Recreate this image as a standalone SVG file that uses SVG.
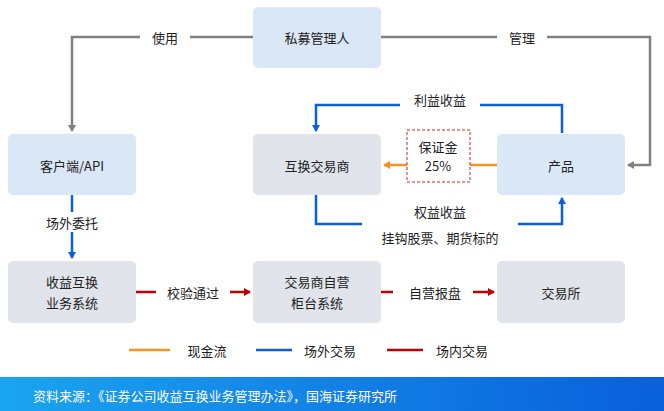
<svg xmlns="http://www.w3.org/2000/svg" width="664" height="411" viewBox="0 0 664 411">
<style>
text{font-family:"Noto Sans CJK SC","Liberation Sans",sans-serif;font-size:13px;fill:#222;text-anchor:middle;dominant-baseline:central}
.b{fill:#dae7f6}.g{fill:#e1e4ea}
.gr{stroke:#808080;stroke-width:2.5;fill:none}
.bl{stroke:#0a5fdb;stroke-width:2.5;fill:none}
.rd{stroke:#c00000;stroke-width:2.5;fill:none}
.or{stroke:#f7931e;stroke-width:2.5;fill:none}
</style>
<defs>
<marker id="ag" markerWidth="8" markerHeight="8" refX="6" refY="4" orient="auto" markerUnits="userSpaceOnUse"><path d="M0,0L7,4L0,8z" fill="#808080"/></marker>
<marker id="ab" markerWidth="8" markerHeight="8" refX="6" refY="4" orient="auto" markerUnits="userSpaceOnUse"><path d="M0,0L7,4L0,8z" fill="#0a5fdb"/></marker>
<marker id="ar" markerWidth="8" markerHeight="8" refX="6" refY="4" orient="auto" markerUnits="userSpaceOnUse"><path d="M0,0L7,4L0,8z" fill="#c00000"/></marker>
<marker id="ao" markerWidth="8" markerHeight="8" refX="6" refY="4" orient="auto" markerUnits="userSpaceOnUse"><path d="M0,0L7,4L0,8z" fill="#f7931e"/></marker>
<linearGradient id="ft" x1="0" x2="1"><stop offset="0" stop-color="#1aa4f0"/><stop offset="1" stop-color="#0a5fdb"/></linearGradient>
</defs>
<rect width="664" height="411" fill="#fff"/>
<g id="connectors">
<path class="gr" d="M253,37H72V131" marker-end="url(#ag)"/>
<rect x="140" y="28" width="50" height="18" fill="#fff"/><text x="165" y="37">使用</text>
<path class="gr" d="M381,37H650V165H628" marker-end="url(#ag)"/>
<rect x="497" y="28" width="50" height="18" fill="#fff"/><text x="522" y="37">管理</text>
<path class="bl" d="M562,133V105H316V131" marker-end="url(#ab)"/>
<rect x="400" y="90" width="80" height="20" fill="#fff"/><text x="440" y="99">利益收益</text>
<path class="bl" d="M316,195V224H562V198" marker-end="url(#ab)"/>
<rect x="362" y="200" width="156" height="46" fill="#fff"/>
<text x="440" y="211">权益收益</text><text x="440" y="237">挂钩股票、期货标的</text>
<path class="or" d="M497,165H384" marker-end="url(#ao)"/>
<rect x="407" y="130" width="63" height="52" fill="#fff" stroke="#d42020" stroke-width="1" stroke-dasharray="3,2"/>
<text x="438" y="146">保证金</text><text x="438" y="165" font-size="12">25%</text>
<path class="bl" d="M72,195V258" marker-end="url(#ab)"/>
<rect x="40" y="212" width="64" height="20" fill="#fff"/><text x="72" y="222">场外委托</text>
<path class="rd" d="M136,292H250" marker-end="url(#ar)"/>
<rect x="156" y="283" width="74" height="18" fill="#fff"/><text x="193" y="292">校验通过</text>
<path class="rd" d="M381,292H494" marker-end="url(#ar)"/>
<rect x="393" y="283" width="80" height="18" fill="#fff"/><text x="435" y="292">自营报盘</text>
</g>
<g id="n1"><rect class="b" x="253" y="7" width="128" height="61" rx="5"/><text x="317" y="37" font-size="14">私募管理人</text></g>
<g id="n2"><rect class="b" x="8" y="134" width="128" height="61" rx="5"/><text x="72" y="165" font-size="14">客户端/API</text></g>
<g id="n3"><rect class="g" x="253" y="134" width="128" height="61" rx="5"/><text x="317" y="165" font-size="14">互换交易商</text></g>
<g id="n4"><rect class="b" x="497" y="134" width="128" height="61" rx="5"/><text x="561" y="165" font-size="14">产品</text></g>
<g id="n5"><rect class="g" x="8" y="261" width="128" height="62" rx="5"/><text x="72" y="281" font-size="14">收益互换</text><text x="72" y="302" font-size="14">业务系统</text></g>
<g id="n6"><rect class="g" x="253" y="261" width="128" height="62" rx="5"/><text x="317" y="281" font-size="14">交易商自营</text><text x="317" y="302" font-size="14">柜台系统</text></g>
<g id="n7"><rect class="g" x="497" y="261" width="128" height="62" rx="5"/><text x="561" y="292" font-size="14">交易所</text></g>
<g id="legend">
<path class="or" d="M129,350H170"/><text x="207" y="350">现金流</text>
<path class="bl" d="M256,350H292"/><text x="330" y="350">场外交易</text>
<path class="rd" d="M387,350H423"/><text x="462" y="350">场内交易</text>
</g>
<rect x="0" y="377" width="664" height="34" fill="url(#ft)"/>
<text x="33" y="395" font-size="14" style="fill:#fff;text-anchor:start">资料来源：《证券公司收益互换业务管理办法》，国海证券研究所</text>
</svg>
